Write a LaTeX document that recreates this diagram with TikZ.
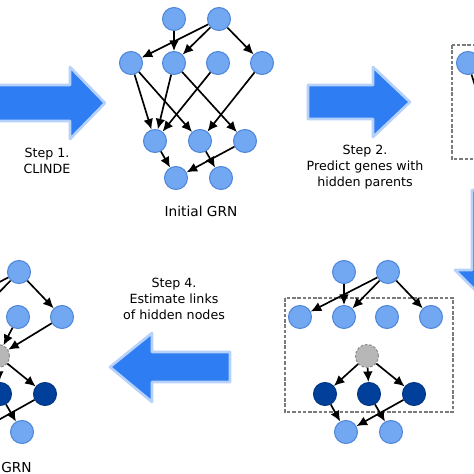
\documentclass[tikz,border=0pt]{standalone}
\usepackage{fontspec}
\setmainfont{DejaVu Sans}
\usetikzlibrary{arrows.meta}
\definecolor{genefill}{HTML}{72A7F2}
\definecolor{geneline}{HTML}{4D86D9}
\definecolor{targetfill}{HTML}{003F9A}
\definecolor{hiddenfill}{HTML}{B7B7B7}
\definecolor{hiddenline}{HTML}{8C8C8C}
\definecolor{arrowblue}{HTML}{2F7DF2}
\definecolor{boxline}{HTML}{7A7A7A}

\begin{document}
\begin{tikzpicture}[x=0.02cm, y=-0.02cm,
    gene/.style={circle, fill=genefill, draw=geneline, line width=0.6pt, minimum size=0.46cm, inner sep=0pt},
    targetgene/.style={gene, fill=targetfill, draw=targetfill!85!black},
    hiddengene/.style={gene, fill=hiddenfill, draw=hiddenline, dash pattern=on 1.5pt off 1pt},
    genelink/.style={-{Latex[length=6pt,width=5.5pt]}, line width=0.95pt},
    bigarrow/.style={fill=arrowblue, draw=arrowblue!35, line width=1.5pt, line join=round},
    hidebox/.style={draw=boxline, line width=0.75pt, dash pattern=on 2pt off 1pt},
    steptext/.style={align=center, font=\fontsize{7.2}{9}\selectfont},
    grntext/.style={font=\fontsize{7.8}{9}\selectfont}]
    \useasboundingbox (0,0) rectangle (474,474);
    \clip (0,0) rectangle (474,474);

    % step arrows
    \draw[bigarrow] (-10,85) -- (70,85) -- (70,67) -- (105,103) -- (70,139) -- (70,121) -- (-10,121) -- cycle;
    \draw[bigarrow] (308,85) -- (373,85) -- (373,67) -- (410,102) -- (373,137) -- (373,119) -- (308,119) -- cycle;
    \draw[bigarrow] (472,190) -- (508,190) -- (508,270) -- (525,270) -- (490,305) -- (455,270) -- (472,270) -- cycle;
    \draw[bigarrow] (230,352) -- (152,352) -- (152,333) -- (110,367) -- (152,402) -- (152,382) -- (230,382) -- cycle;

    \node[steptext] (step1) at (47,161) {Step 1.\\CLINDE};
    \node[steptext] (step2) at (365,167) {Step 2.\\Predict genes with\\hidden parents};
    \node[steptext] (step4) at (174,299) {Step 4.\\Estimate links\\of hidden nodes};

    % initial GRN
    \node[gene] (a) at (174,19) {};
    \node[gene] (b) at (219,19) {};
    \node[gene] (c) at (131,63) {};
    \node[gene] (d) at (174,63) {};
    \node[gene] (e) at (218,63) {};
    \node[gene] (f) at (262,63) {};
    \node[gene] (g) at (155,141) {};
    \node[gene] (h) at (200,141) {};
    \node[gene] (i) at (245,141) {};
    \node[gene] (j) at (176,178) {};
    \node[gene] (k) at (221,178) {};
    \foreach \u/\v in {a/d, b/c, b/d, b/f, c/g, c/h, d/g, d/i, e/g, f/h, g/j, i/j, h/k}
        \draw[genelink] (\u) -- (\v);
    \node[grntext] (initial) at (201,211) {Initial GRN};

    % predicted genes
    \draw[hidebox] (452,45) rectangle (640,159);
    \node[gene] (c2) at (468,63) {};
    \coordinate (b2) at (556,19);
    \coordinate (g2) at (492,141);
    \coordinate (h2) at (537,141);
    \draw[genelink] (b2) -- (c2);
    \draw[genelink] (c2) -- (g2);
    \draw[genelink] (c2) -- (h2);

    % hidden node
    \draw[hidebox] (285,298) rectangle (453,412);
    \node[gene] (p1) at (344,272) {};
    \node[gene] (p2) at (388,272) {};
    \node[gene] (q1) at (300,317) {};
    \node[gene] (q2) at (344,317) {};
    \node[gene] (q3) at (387,317) {};
    \node[gene] (q4) at (431,317) {};
    \node[hiddengene] (x) at (367,356) {};
    \node[targetgene] (r1) at (325,394) {};
    \node[targetgene] (r2) at (369,394) {};
    \node[targetgene] (r3) at (414,394) {};
    \node[gene] (s1) at (346,432) {};
    \node[gene] (s2) at (391,432) {};
    \foreach \u/\v in {p1/q2, p2/q1, p2/q2, p2/q4, x/r1, x/r2, x/r3, r1/s1, r3/s1, r2/s2}
        \draw[genelink] (\u) -- (\v);

    % final GRN
    \node[gene] (fp2) at (19,272) {};
    \node[gene] (fq3) at (18,317) {};
    \node[gene] (fq4) at (62,317) {};
    \node[hiddengene] (fx) at (-2,356) {};
    \node[targetgene] (fr2) at (0,394) {};
    \node[targetgene] (fr3) at (45,394) {};
    \node[gene] (fs2) at (22,432) {};
    \coordinate (fq1) at (-69,317);
    \coordinate (fq2) at (-25,317);
    \coordinate (fs1) at (-23,432);
    \foreach \u/\v in {fp2/fq1, fp2/fq2, fp2/fq4, fq3/fx, fq4/fx, fx/fr2, fx/fr3, fr3/fs1, fr2/fs2}
        \draw[genelink] (\u) -- (\v);
    \node[grntext, anchor=west, inner sep=0pt] (final) at (1,468) {GRN};
\end{tikzpicture}
\end{document}
